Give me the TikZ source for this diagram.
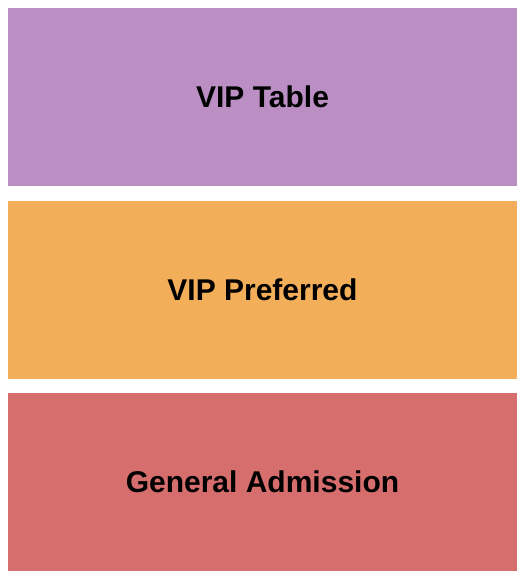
\documentclass[tikz,border=0pt]{standalone}
\usepackage{fontspec}
\setmainfont{Liberation Sans}
\usetikzlibrary{positioning}
\definecolor{viplilac}{RGB}{187,143,196}
\definecolor{preforange}{RGB}{243,174,89}
\definecolor{gared}{RGB}{215,110,110}

\begin{document}
\begin{tikzpicture}[x=1pt, y=-1pt, node distance=14.5pt,
		sectionbox/.style={rectangle, minimum width=509pt, minimum height=178pt, inner sep=0pt, outer sep=0pt, font=\fontsize{30}{35}\selectfont\bfseries}]
				\useasboundingbox (0,0) rectangle (525,580);
				% Sezioni
				\node[sectionbox, fill=viplilac, anchor=north west] (vip) at (8,8) {VIP Table};
				\node[sectionbox, fill=preforange, below=of vip] (pref) {VIP Preferred};
				\node[sectionbox, fill=gared, below=of pref] (ga) {General Admission};
			\end{tikzpicture}
\end{document}
